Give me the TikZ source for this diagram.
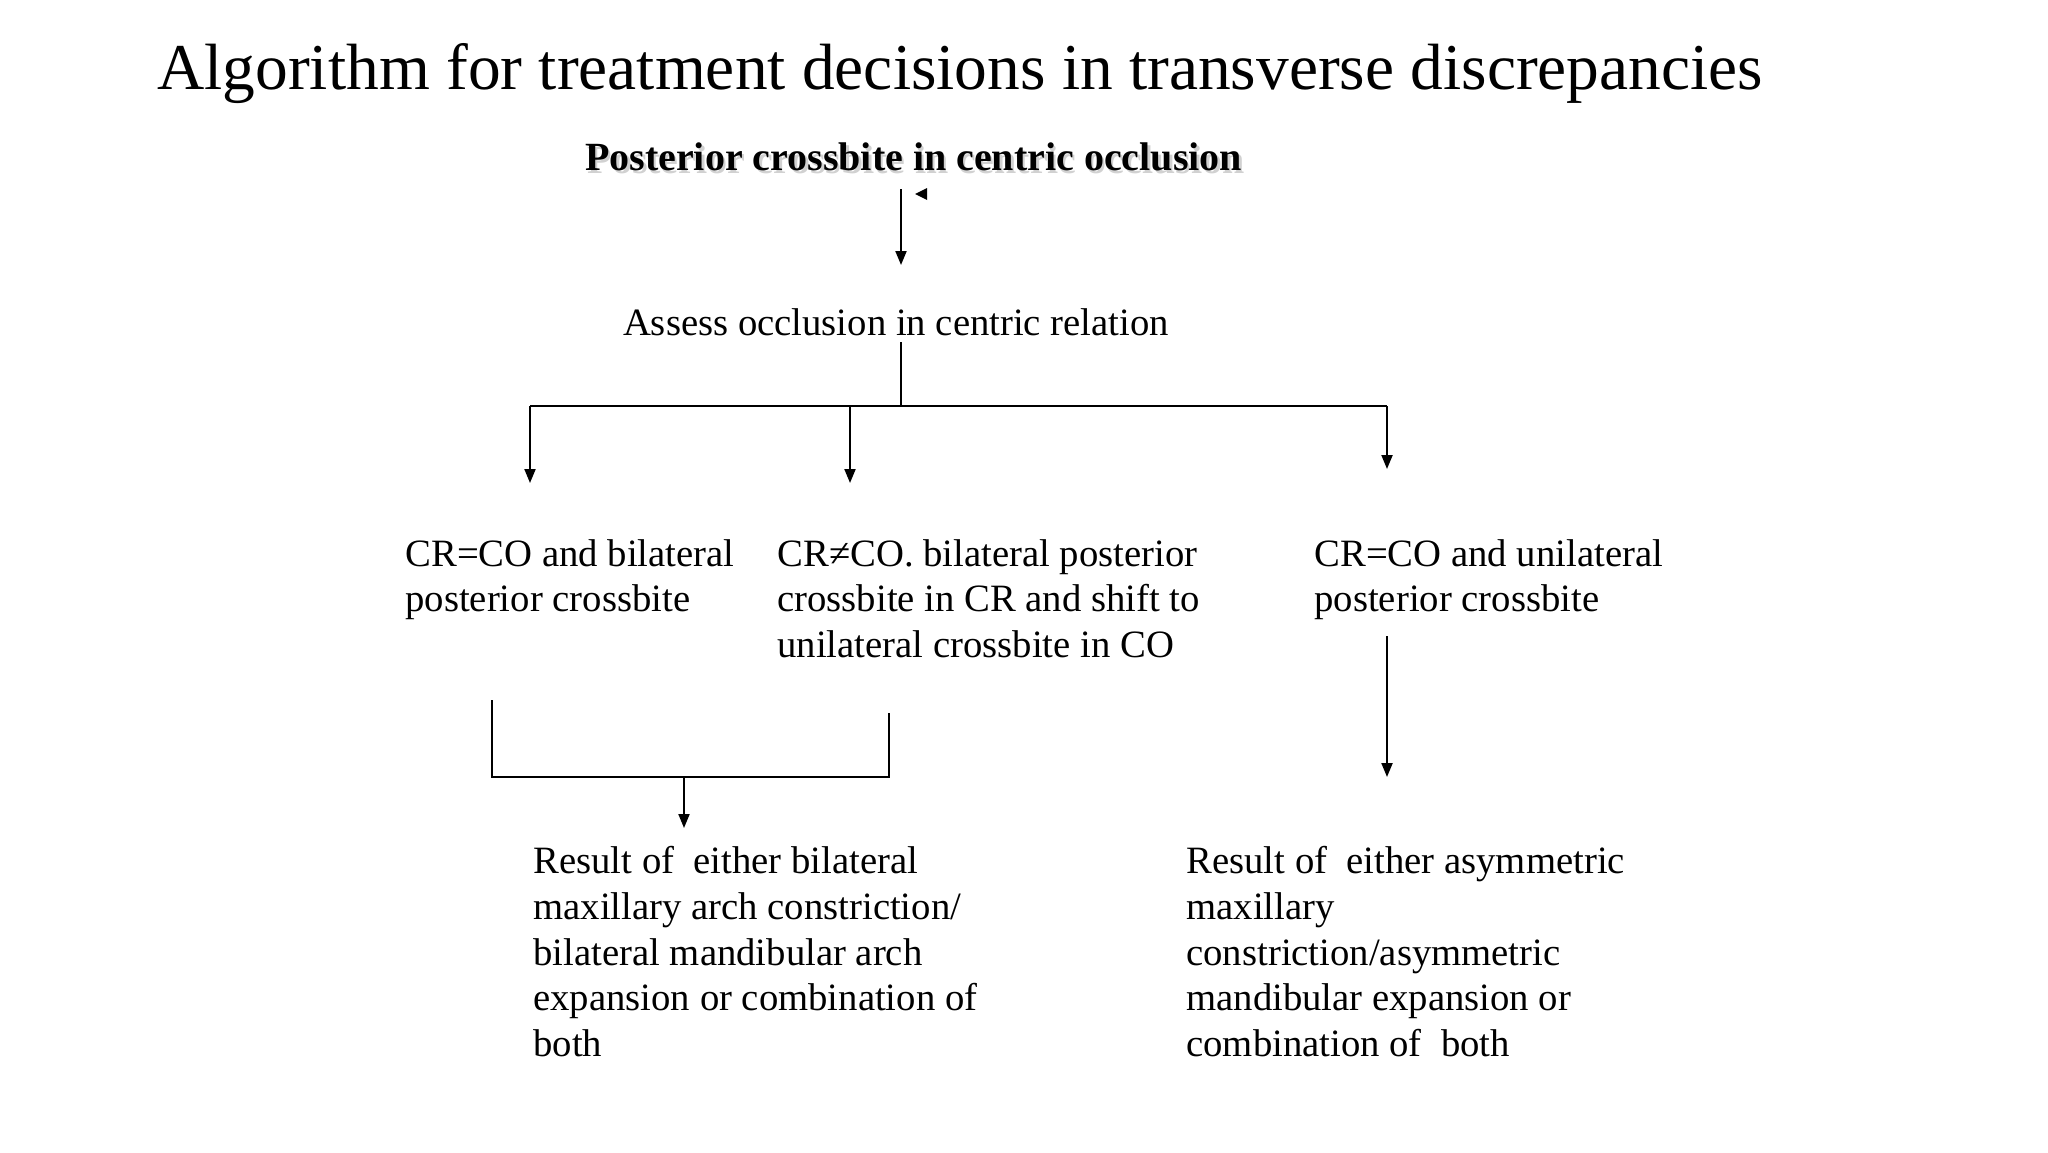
\documentclass[tikz,border=0pt]{standalone}
\usepackage{fontspec}
\setmainfont{Liberation Serif}
\usetikzlibrary{arrows.meta}
\begin{document}
\begin{tikzpicture}[x=0.5pt,y=-0.5pt,
  ln/.style={line width=1pt, black},
  arr/.style={ln, -{Triangle[width=5.5pt,length=7pt]}},
  body/.style={inner sep=0pt, font=\fontsize{19.35pt}{22.85pt}\selectfont, align=left, anchor=north west},
  single/.style={inner sep=0pt, anchor=base},
]
\useasboundingbox[fill=white] (0,0) rectangle (2048,1152);

% title
\node[single, anchor=base west, font=\fontsize{32.7pt}{38pt}\selectfont] (title) at (157,89)
  {Algorithm for treatment decisions in transverse discrepancies};

% start (with soft shadow)
\node[single, text=black!18, font=\fontsize{20pt}{24pt}\selectfont\bfseries] (startshadow) at (916,173)
  {Posterior crossbite in centric occlusion};
\node[single, font=\fontsize{20pt}{24pt}\selectfont\bfseries] (start) at (913.5,170)
  {Posterior crossbite in centric occlusion};

\node[single, font=\fontsize{19.35pt}{22.85pt}\selectfont] (assess) at (896,335)
  {Assess occlusion in centric relation};

\node[body] (cr1) at (405,539) {CR=CO and bilateral\\posterior crossbite};
\node[body] (cr2) at (777,539) {CR≠CO. bilateral posterior\\crossbite in CR and shift to\\unilateral crossbite in CO};
\node[body] (cr3) at (1314,539) {CR=CO and unilateral\\posterior crossbite};

\node[body] (res1) at (533,846) {Result of\ \ either bilateral\\maxillary arch constriction/\\bilateral mandibular arch\\expansion or combination of\\both};
\node[body] (res2) at (1186,846) {Result of\ \ either asymmetric\\maxillary\\constriction/asymmetric\\mandibular expansion or\\combination of\ \ both};

% connector points
\coordinate (a0s) at (901,189);
\coordinate (a0e) at (901,265);
\coordinate (sp) at (901,342);
\coordinate (sj) at (901,406);
\coordinate (hl) at (530,406);
\coordinate (hm) at (850,406);
\coordinate (hr) at (1387,406);
\coordinate (el) at (530,483);
\coordinate (em) at (850,483);
\coordinate (er) at (1387,469);
\coordinate (bl) at (492,700);
\coordinate (br) at (889,713);
\coordinate (bm) at (684,777);
\coordinate (be) at (684,828);
\coordinate (rs) at (1387,636);
\coordinate (re) at (1387,777);

\draw[arr] (a0s) -- (a0e);
\fill (915,194) -- (927,188) -- (927,200) -- cycle;

\draw[ln] (sp) -- (sj);
\draw[ln] (hl) -- (hr);
\draw[arr] (hl) -- (el);
\draw[arr] (hm) -- (em);
\draw[arr] (hr) -- (er);

\draw[ln] (bl) |- (bm) -| (br);
\draw[arr] (bm) -- (be);
\draw[arr] (rs) -- (re);
\end{tikzpicture}
\end{document}
